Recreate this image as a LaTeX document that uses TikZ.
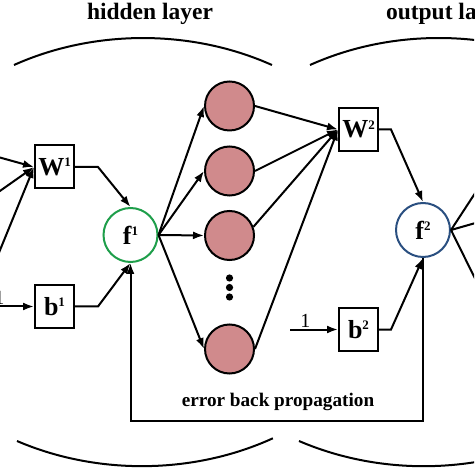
\documentclass[tikz,border=0pt]{standalone}
\usepackage{fontspec}
\setmainfont{Liberation Serif}
\usetikzlibrary{arrows.meta}
\definecolor{cellred}{HTML}{D08A8C}
\definecolor{fgreen}{HTML}{1E9E4A}
\definecolor{fblue}{HTML}{2A4F80}
\newcommand\supr[1]{\raisebox{4.3pt}{\fontsize{6.5}{6.5}\selectfont #1}}

\begin{document}
\begin{tikzpicture}[x=0.5pt,y=-0.5pt,line width=1pt,>={Latex[length=5.5pt,width=4pt]},
        box/.style={draw, minimum width=19.5pt, minimum height=21.5pt, inner sep=0pt, font=\fontsize{13}{13}\selectfont\bfseries},
        act/.style={circle, draw, minimum size=27pt, inner sep=0pt, font=\fontsize{13}{13}\selectfont\bfseries},
        cell/.style={circle, draw, fill=cellred, minimum size=24.5pt, inner sep=0pt},
        title/.style={inner sep=0pt, font=\fontsize{11.75}{12}\selectfont\bfseries},
        one/.style={above, inner sep=0.5pt, font=\fontsize{10}{10}\selectfont}]
        \path[clip, use as bounding box] (0,0) rectangle (474,474);
        % layer titles and brackets
        \node[title] (hid) at (150,14) {hidden layer};
        \node[title, anchor=west] (out) at (385,14) {output layer};
        \draw (14,65) arc[start angle=119, end angle=61, x radius=133pt, y radius=107.5pt];
        \draw (17,441) arc[start angle=242, end angle=299.5, x radius=133pt, y radius=107.5pt];
        \draw (310,65) arc[start angle=119, end angle=30, x radius=133pt, y radius=107.5pt];
        \draw (299,441) arc[start angle=242, end angle=330, x radius=133pt, y radius=107.5pt];
        % hidden layer
        \node[box] (W1) at (54.5,167) {W\supr{1}};
        \node[box] (b1) at (54.5,306.5) {b\supr{1}};
        \node[act, draw=fgreen] (f1) at (130.5,235) {f\supr{1}};
        \foreach \y/\n in {106/1,171/2,235.5/3,349/4}
            \node[cell] (h\n) at (229.5,\y) {};
        \foreach \y in {278,287.5,297}
            \fill (229.5,\y) circle (1.8pt);
        % output layer
        \node[box] (W2) at (358.5,129.5) {W\supr{2}};
        \node[box] (b2) at (358.5,329.5) {b\supr{2}};
        \node[act, draw=fblue] (f2) at (423,230) {f\supr{2}};
        % inputs
        \coordinate (x1) at (-20,152);
        \coordinate (x2) at (-20,205);
        \coordinate (x3) at (-20,299);
        \foreach \n in {1,2,3}
            \draw[->] (x\n) -- (W1.west);
        \coordinate (u1) at (-14,306.5);
        \coordinate (u2) at (290,329.5);
        \draw[->] (u1) -- node[one, pos=0.28] (one1) {1} (b1.west);
        \draw[->] (u2) -- node[one, pos=0.32] (one2) {1} (b2.west);
        % connections
        \draw[->] (W1.east) -- ++(23,0) -- (f1.north);
        \draw[->] (b1.east) -- ++(23,0) -- (f1.south);
        \foreach \n in {1,...,4}
            \draw[->] (f1.east) -- (h\n.west);
        \foreach \n in {1,2,4}
            \draw[->] (h\n.east) -- (W2.west);
        \draw[->] (h3.20) -- (W2.west);
        \draw[->] (W2.east) -- ++(12,0) -- (f2.north);
        \draw[->] (b2.east) -- ++(12,0) -- (f2.south);
        % outputs
        \coordinate (y1) at (500,155);
        \coordinate (y2) at (500,216);
        \coordinate (y3) at (500,329);
        \foreach \n in {1,2,3}
            \draw (f2.east) -- (y\n);
        % feedback
        \draw[->] (f2.south) -- ++(0,163) -| (f1.south);
        \node[font=\fontsize{9.6}{10}\selectfont\bfseries] (err) at (278,402) {error back propagation};
\end{tikzpicture}
\end{document}
